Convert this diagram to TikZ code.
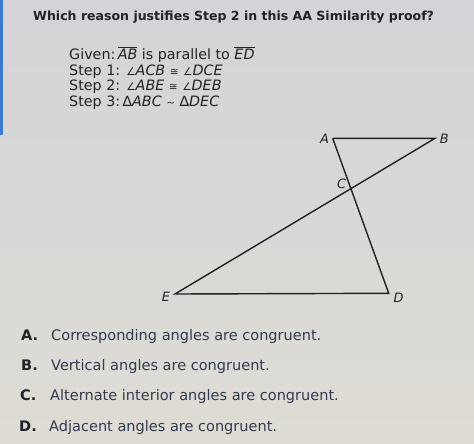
\documentclass[tikz,border=0pt]{standalone}
\usepackage{fontspec}
\setmainfont{DejaVu Sans}
\usepackage{color}
\usetikzlibrary{positioning}
\definecolor{paper}{RGB}{212,212,216}
\definecolor{paperlow}{RGB}{222,220,212}
\definecolor{ink}{RGB}{34,34,38}
\definecolor{answerink}{RGB}{50,58,78}
\definecolor{edgeblue}{RGB}{60,120,210}
\newcommand{\seg}[1]{$\overline{\mbox{\itshape #1}}$}
\newcommand{\ang}[1]{{\small ∠}\textit{#1}}
\newcommand{\tri}[1]{∆\textit{#1}}
\tikzset{
    question/.style={anchor=base west, inner sep=0pt, font=\bfseries\fontsize{10.7}{12}\selectfont, ink},
    proofline/.style={anchor=base west, inner sep=0pt, font=\fontsize{12.2}{14}\selectfont, ink},
    choice/.style={anchor=base west, inner sep=0pt, font=\fontsize{12.4}{14}\selectfont, answerink},
    choiceletter/.style={choice, font=\bfseries\fontsize{12.4}{14}\selectfont, ink},
    pointlabel/.style={inner sep=0pt, font=\itshape\fontsize{11}{12}\selectfont, ink},
    side/.style={ink, line width=1.2pt}
}
\begin{document}
\begin{tikzpicture}[x=0.03cm, y=-0.03cm]
    % background of the screenshot
    \useasboundingbox (0,0) rectangle (474,443);
    \shade[top color=paper, bottom color=paperlow] (0,0) rectangle (474,443);
    \fill[edgeblue] (0,0) rectangle (3,135);

    % question and proof
    \node[question] (title) at (33,20.5) {Which reason justifies Step 2 in this AA Similarity proof?};
    \node[proofline] (given) at (69,59) {Given:\,\seg{AB} is parallel to \seg{ED}};
    \node[proofline] (step1) at (69,75) {Step 1: \ang{ACB} {\small ≅} \ang{DCE}};
    \node[proofline] (step2) at (69,90.5) {Step 2: \ang{ABE} {\small ≅} \ang{DEB}};
    \node[proofline] (step3) at (69,106.5) {Step 3:\,\tri{ABC} {\small ∼} \tri{DEC}};

    % figure
    \coordinate (A) at (332.7,138.3);
    \coordinate (B) at (435,138.3);
    \coordinate (D) at (388.7,293.3);
    \coordinate (E) at (175,294);
    \coordinate (C) at (intersection of A--D and B--E);
    \draw[side] (A) -- (B) -- (E) -- (D) -- (A);
    \node[pointlabel, left=3pt of A] (A-label) {A};
    \node[pointlabel, right=4pt of B] (B-label) {B};
    \node[pointlabel, above left=0pt and 4pt of C] (C-label) {C};
    \node[pointlabel, below right=0pt and 4pt of D] (D-label) {D};
    \node[pointlabel, left=4pt of E, yshift=-2pt] (E-label) {E};

    % answer choices
    \node[choiceletter] (A-choice) at (21,340) {A.};
    \node[choice] at (51,340) {Corresponding angles are congruent.};
    \node[choiceletter] (B-choice) at (21,370) {B.};
    \node[choice] at (51,370) {Vertical angles are congruent.};
    \node[choiceletter] (C-choice) at (20,400.5) {C.};
    \node[choice] at (50,400.5) {Alternate interior angles are congruent.};
    \node[choiceletter] (D-choice) at (19,431) {D.};
    \node[choice] at (49,431) {Adjacent angles are congruent.};
\end{tikzpicture}
\end{document}
